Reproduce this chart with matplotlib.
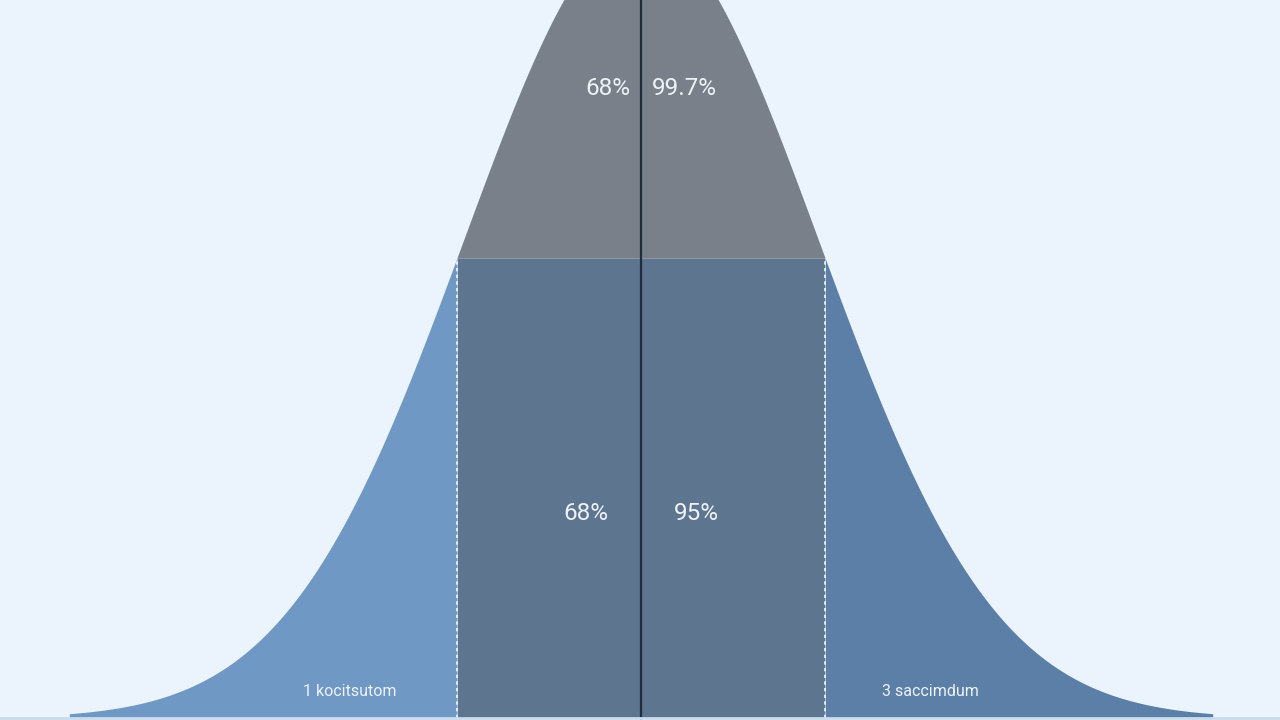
import numpy as np
import matplotlib
matplotlib.use("Agg")
import matplotlib.pyplot as plt

# ---- data ----
mean = 0.0
sd = 1.0
tail_limit = 3.23          # curve drawn out to +/- this many sd
band_edges = [-1.04, 1.04]  # dashed boundaries
top_labels = ["68%", "99.7%"]
mid_labels = ["68%", "95%"]
bottom_labels = ["1 kocitsutom", "3 saccimdum"]

# ---- colours ----
bg = "#EBF4FC"
left_col = "#6F98C4"
right_col = "#5B7FA7"
center_col = "#5E7590"
cap_col = "#7A8089"
line_col = "#1F2C3C"
text_col = "#EEF3F8"

def pdf(x):
    return np.exp(-0.5 * ((x - mean) / sd) ** 2) / (sd * np.sqrt(2 * np.pi))

fig = plt.figure(figsize=(12.8, 7.2), dpi=100, facecolor=bg)
ax = fig.add_axes([0, 0, 1, 1])
ax.set_facecolor(bg)

px_per_x = 177.0
xl = -641 / px_per_x
xr = (1280 - 641) / px_per_x
ax.set_xlim(xl, xr)
scale = 460.0 / pdf(band_edges[1])
ax.set_ylim(-2 / scale, 718 / scale)

x = np.linspace(-tail_limit, tail_limit, 2000)
y = pdf(x)
h1 = pdf(band_edges[1])

# tails
ml = x <= band_edges[0]
ax.fill_between(x[ml], 0, y[ml], color=left_col, lw=0)
mr = x >= band_edges[1]
ax.fill_between(x[mr], 0, y[mr], color=right_col, lw=0)
# central band
mc = (x >= band_edges[0]) & (x <= band_edges[1])
ax.fill_between(x[mc], 0, np.minimum(y[mc], h1), color=center_col, lw=0)
ax.fill_between(x[mc], h1, y[mc], color=cap_col, lw=0)

# dashed edges
for e in band_edges:
    ax.plot([e, e], [0, h1], color="#F2F6FA", lw=1.2, ls=(0, (2, 2)))
# mean line
ax.axvline(mean, color=line_col, lw=1.6)
# baseline
ax.axhline(0, color="#C9DCEE", lw=2)

def px2x(px):
    return (px - 641) / px_per_x

def py2y(py):
    return (718 - py) / scale

fs_pct = 17.5
kw = dict(ha="center", va="center", color=text_col, family="Roboto")
ax.text(px2x(608), py2y(89), top_labels[0], fontsize=fs_pct, **kw)
ax.text(px2x(684), py2y(89), top_labels[1], fontsize=fs_pct, **kw)
ax.text(px2x(586), py2y(514), mid_labels[0], fontsize=fs_pct, **kw)
ax.text(px2x(696), py2y(514), mid_labels[1], fontsize=fs_pct, **kw)
ax.text(px2x(350), py2y(691), bottom_labels[0], fontsize=11.5, **kw)
ax.text(px2x(930), py2y(691), bottom_labels[1], fontsize=11.5, **kw)

ax.axis("off")
fig.savefig("out.png", dpi=100, facecolor=bg)
